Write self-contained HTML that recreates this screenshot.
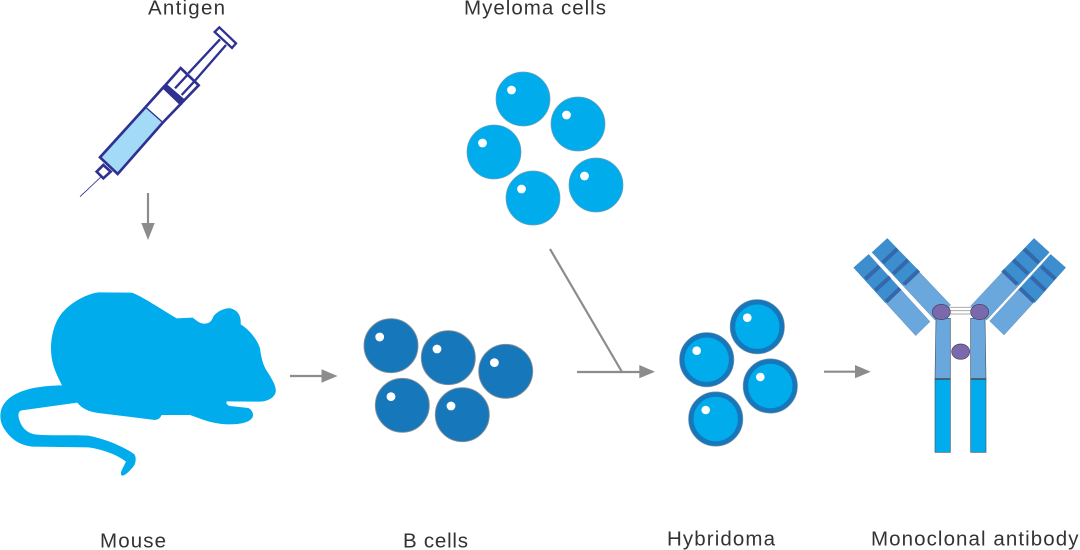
<!DOCTYPE html>
<html><head><meta charset="utf-8">
<style>html,body{margin:0;padding:0;background:#fff}svg{display:block}text{font-family:"Liberation Sans",sans-serif;font-size:20.5px;fill:#333}</style>
</head><body>
<svg width="1080" height="550" viewBox="0 0 1080 550" xmlns="http://www.w3.org/2000/svg">
<defs>
<g id="h"><circle r="24.7" fill="#00acec" stroke="#1677bb" stroke-width="5"/><circle r="27.2" fill="none" stroke="#8a99a5" stroke-width=".6"/><circle cx="-10" cy="-9" r="4.3" fill="#fff"/></g>
<g id="m"><circle r="27" fill="#00acec" stroke="#6f9fb8" stroke-width=".7"/><circle cx="-11.5" cy="-9" r="4.4" fill="#fff"/></g>
<g id="b"><circle r="27" fill="#1677bb" stroke="#8a8f94" stroke-width=".9"/><circle cx="-11.3" cy="-8.7" r="4.4" fill="#fff"/></g>
</defs>

<text x="148" y="14.5" textLength="77" lengthAdjust="spacing">Antigen</text>
<text x="464" y="14.5" textLength="142" lengthAdjust="spacing">Myeloma cells</text>
<text x="100" y="547.7" textLength="66" lengthAdjust="spacing">Mouse</text>
<text x="403" y="547.7" textLength="65" lengthAdjust="spacing">B cells</text>
<text x="667" y="545.5" textLength="108" lengthAdjust="spacing">Hybridoma</text>
<text x="871" y="545.5" textLength="207.5" lengthAdjust="spacing">Monoclonal antibody</text>

<!-- syringe -->
<g transform="translate(60,0) scale(.33333)" stroke="#2e3192" stroke-linejoin="miter" fill="none">
<path d="M60 590L128 526" stroke-width="2.5"/>
<path d="M110 515L130 495L152 515L130 535Z" fill="#fff" stroke-width="8"/>
<path d="M120 472L258 320L310 366L173 522Z" fill="#a3daf6" stroke-width="8"/>
<path d="M258 320L310 262L362 312L310 366" fill="#fff" stroke-width="8"/>
<path d="M310 262L362 204L416 256L362 312" fill="none" stroke-width="8"/>
<path d="M385 220L480 118M405 242L498 135" stroke-width="7"/>
<path d="M345 265L385 222M365 285L405 242" stroke-width="7"/>
<path d="M464 96L478 82L528 130L516 144Z" fill="#fff" stroke-width="7"/>
<path d="M318 250L374 298L362 314L306 264Z" fill="#2e3192" stroke="none"/>
</g>

<!-- gray arrows -->
<g stroke="#8c8c8c" stroke-width="2.2" fill="none">
<path d="M148 193V224"/>
<path d="M290 376H322"/>
<path d="M577 372H642"/>
<path d="M550 249L622 372"/>
<path d="M824 371.7H857"/>
</g>
<g fill="#8c8c8c">
<path d="M141.3 223H154.7L148 240Z"/>
<path d="M321.5 369.3L337.5 376L321.5 382.7Z"/>
<path d="M639.3 365L655 371.7L639.3 378.3Z"/>
<path d="M855 365L870.7 371.7L855 378.3Z"/>
</g>

<!-- mouse -->
<g transform="translate(0,280) scale(.33333)">
<path fill="#00acec" d="M186 316C168 280 153 250 153 205C153 165 165 125 185 100C215 65 260 42 295 37L395 38C420 45 490 92 530 115L578 113C590 122 600 132 615 131C630 130 635 122 640 110C648 97 672 83 692 85C712 90 724 105 722 133C750 150 772 180 780 205C785 240 790 255 800 272C815 295 830 320 827 335C825 352 805 364 780 365L680 364C678 370 680 375 690 378L745 384C758 390 762 405 757 413C748 428 720 433 690 433C650 433 625 425 595 414L570 405H485C482 410 480 418 465 420L295 399C265 395 245 385 232 368L65 391C55 393 53 405 58 420C65 442 80 460 110 464C160 468 220 464 265 467C320 478 370 500 402 522C410 530 408 550 400 560C390 572 378 585 368 587C360 587 362 575 368 565L378 545C360 530 320 510 265 502L100 500C65 498 35 480 15 450C0 430-2 405 5 385C20 350 55 335 95 325C125 319 160 316 186 316Z"/>
</g>

<!-- myeloma -->
<use href="#m" x="523" y="99"/>
<use href="#m" x="578" y="124"/>
<use href="#m" x="494" y="152"/>
<use href="#m" x="533" y="198"/>
<use href="#m" x="596" y="185"/>

<!-- b cells -->
<use href="#b" x="391" y="345.7"/>
<use href="#b" x="448.3" y="357.7"/>
<use href="#b" x="505.7" y="371.3"/>
<use href="#b" x="402.3" y="405.3"/>
<use href="#b" x="462.3" y="414.7"/>

<!-- hybridoma -->
<use href="#h" x="757.3" y="326.7"/>
<use href="#h" x="706.7" y="359.7"/>
<use href="#h" x="770.3" y="386"/>
<use href="#h" x="715.7" y="419"/>

<!-- antibody (coordinates in zoom space) -->
<g transform="translate(840,225) scale(.33333)">
<path d="M325 247H395M325 257H395M325 267H395" stroke="#aaa" stroke-width="3" fill="none"/>
<!-- left arms -->
<path d="M142 40L332 240L285 285L96 82Z" fill="#6aa7dc" stroke="#4f6f8f" stroke-width="1"/>
<path d="M142 40L236 136L190 182L96 82Z" fill="#3d8ecf"/>
<path d="M86 88L270 290L227 332L41 128Z" fill="#6aa7dc" stroke="#4f6f8f" stroke-width="1"/>
<path d="M86 88L180 190L136 234L41 128Z" fill="#3d8ecf"/>
<g stroke="#3567ab" stroke-width="12" fill="none">
<path d="M128 113L172 72M160 146L204 105M192 178L236 136"/>
<path d="M76 162L118 124M106 196L150 156M138 230L180 190"/>
</g>
<!-- right arms -->
<path d="M582 40L628 82L440 285L392 243Z" fill="#6aa7dc" stroke="#4f6f8f" stroke-width="1"/>
<path d="M582 40L628 82L534 182L488 136Z" fill="#3d8ecf"/>
<path d="M632 88L677 128L492 330L449 288Z" fill="#6aa7dc" stroke="#4f6f8f" stroke-width="1"/>
<path d="M632 88L677 128L584 234L540 190Z" fill="#3d8ecf"/>
<g stroke="#3567ab" stroke-width="12" fill="none">
<path d="M552 72L596 113M520 105L564 146M488 136L532 178"/>
<path d="M604 124L646 162M574 156L616 196M540 190L582 230"/>
</g>
<!-- stems -->
<path d="M288 280H331V462H285Z" fill="#6aa7dc" stroke="#44586b" stroke-width="2"/>
<path d="M392 280H435L438 462H392Z" fill="#6aa7dc" stroke="#44586b" stroke-width="2"/>
<rect x="285" y="462" width="46" height="220" fill="#00acec" stroke="#44586b" stroke-width="2"/>
<rect x="392" y="462" width="46" height="220" fill="#00acec" stroke="#44586b" stroke-width="2"/>
<path d="M285 462H331M392 462H438" stroke="#44586b" stroke-width="5"/>
<ellipse cx="304" cy="261" rx="27" ry="23" fill="#7b69ae" stroke="#3f3f5a" stroke-width="2"/>
<ellipse cx="419" cy="261" rx="27" ry="23" fill="#7b69ae" stroke="#3f3f5a" stroke-width="2"/>
<ellipse cx="362" cy="380" rx="27" ry="23" fill="#7b69ae" stroke="#3f3f5a" stroke-width="2"/>
</g>
</svg>
</body></html>
